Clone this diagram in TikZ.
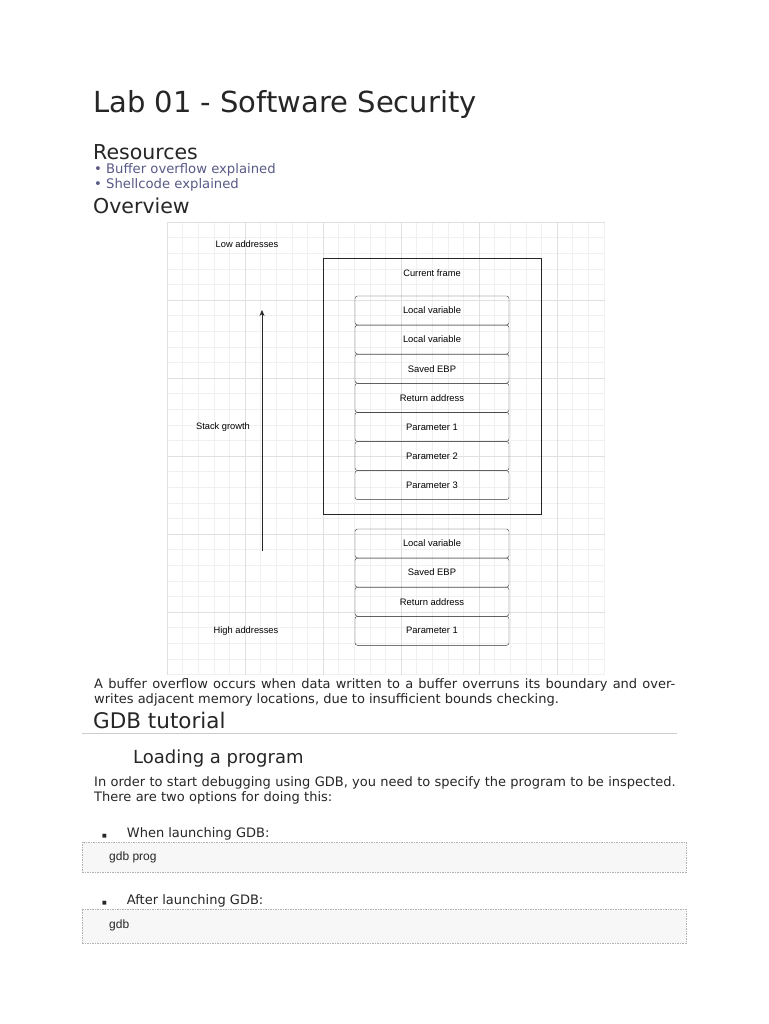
\documentclass[tikz,border=0pt]{standalone}
\usepackage{fontspec}
\usetikzlibrary{arrows.meta}
\setmainfont{DejaVu Sans}
\newfontfamily\arial{Liberation Sans}
\begin{document}
\begin{tikzpicture}[x=1pt,y=-1pt,
  txt/.style={anchor=west,inner sep=0pt,text=black!85},
  lbl/.style={font=\arial\fontsize{9.3}{11}\selectfont,inner sep=0pt},
  cell/.style={draw=black!80,rounded corners=2.5pt,minimum width=154pt,minimum height=29pt,font=\arial\fontsize{9.4}{11}\selectfont,inner sep=0pt},
  code/.style={draw=black!30,dash pattern=on 1.5pt off 1pt,fill=black!3,line width=0.4pt}]
\useasboundingbox (0,0) rectangle (768,1024);
\fill[white] (0,0) rectangle (768,1024);
% grid
\foreach \i in {0,...,28} {\draw[black!6,line width=0.4pt] ({167+15.6*\i},222) -- ({167+15.6*\i},675);}
\foreach \j in {0,...,29} {\draw[black!6,line width=0.4pt] (167,{222+15.6*\j}) -- (605,{222+15.6*\j});}
\foreach \i in {0,...,5} {\draw[black!12,line width=0.4pt] ({167+78*\i},222) -- ({167+78*\i},675);}
\foreach \j in {0,...,5} {\draw[black!12,line width=0.4pt] (167,{222+78*\j}) -- (605,{222+78*\j});}
% texts
\node[txt,font=\fontsize{29}{34}\selectfont] (title) at (93,105) {Lab 01 - Software Security};
\node[txt,font=\fontsize{20.5}{24}\selectfont] (res) at (93,152) {Resources};
\node[txt,font=\fontsize{13.2}{16}\selectfont,text=black!40!blue!30!gray] (b1) at (94,170) {\textbullet\ Buffer overflow explained};
\node[txt,font=\fontsize{13.2}{16}\selectfont,text=black!40!blue!30!gray] (b2) at (94,185) {\textbullet\ Shellcode explained};
\node[txt,font=\fontsize{20.5}{24}\selectfont] (ov) at (93,206) {Overview};
% diagram
\node[draw=black!85,line width=0.6pt,minimum width=218pt,minimum height=256pt,inner sep=0pt] (frame) at (432,386) {};
\node[lbl] (cf) at (432,273) {Current frame};
\foreach \t [count=\k] in {Local variable,Local variable,Saved EBP,Return address,Parameter 1,Parameter 2,Parameter 3}
  {\node[cell] (c\k) at (432,{310.5+29.1*(\k-1)}) {\t};}
\foreach \t [count=\k] in {Local variable,Saved EBP,Return address,Parameter 1}
  {\node[cell] (d\k) at (432,{543.5+29.1*(\k-1)}) {\t};}
\node[lbl] (low) at (247,244) {Low addresses};
\node[lbl] (sg) at (223,427) {Stack growth};
\node[lbl] (high) at (246,631) {High addresses};
\coordinate (a0) at (262,551);
\coordinate (a1) at (262,310);
\draw[-{Stealth[length=6pt,width=5pt]},black!85,line width=0.6pt] (a0) -- (a1);
% paragraph
\node[txt,font=\fontsize{13}{15}\selectfont,text width=581pt,align=justify,anchor=north west] (p1) at (94,678) {A buffer overflow occurs when data written to a buffer overruns its boundary and overwrites adjacent memory locations, due to insufficient bounds checking.};
\node[txt,font=\fontsize{21.5}{25}\selectfont] (gdb) at (93,720) {GDB tutorial};
\coordinate (r0) at (82,733.5); \coordinate (r1) at (677,733.5);
\draw[black!20,line width=0.8pt] (r0) -- (r1);
\node[txt,font=\fontsize{18}{21}\selectfont] (load) at (133,759) {Loading a program};
\node[txt,font=\fontsize{13}{15}\selectfont,text width=600pt,align=left,anchor=north west] (p2) at (94,776) {In order to start debugging using GDB, you need to specify the program to be inspected.\\ There are two options for doing this:};
\node[txt,font=\fontsize{13}{16}\selectfont] (w1) at (102,834) {{\tiny ■}\hspace{20pt}When launching GDB:};
\node[code,minimum width=604pt,minimum height=30pt,inner sep=0pt] (cb1) at (384,857) {};
\node[txt,font=\arial\fontsize{12}{14}\selectfont] (g1) at (109,857) {gdb prog};
\node[txt,font=\fontsize{13}{16}\selectfont] (w2) at (102,901) {{\tiny ■}\hspace{20pt}After launching GDB:};
\node[code,minimum width=604pt,minimum height=34pt,inner sep=0pt] (cb2) at (384,926) {};
\node[txt,font=\arial\fontsize{12}{14}\selectfont] (g2) at (109,925) {gdb};
\end{tikzpicture}
\end{document}
